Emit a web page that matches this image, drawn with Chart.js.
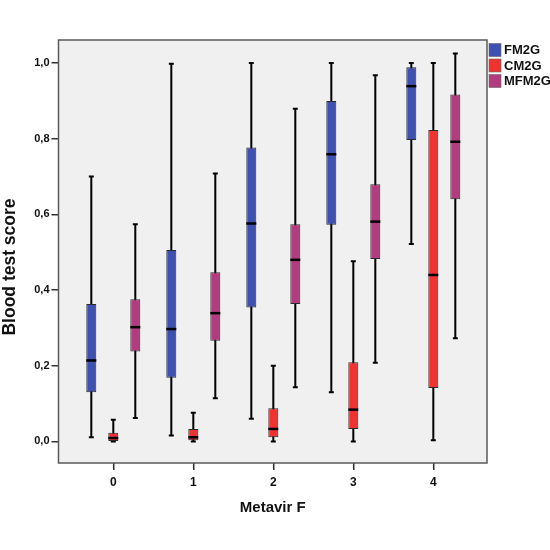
<!DOCTYPE html>
<html lang="en">
<head>
    <meta charset="UTF-8">
    <title>Blood test score by Metavir F</title>
    <script src="https://cdn.jsdelivr.net/npm/chart.js"></script>
    <style>
        body { margin: 0; background: #fff; }
        #wrap { width: 550px; height: 550px; }
    </style>
</head>
<body>
    <div id="wrap"><canvas id="chart" width="550" height="550"></canvas></div>

    <script>
        // Metavir F stages on the x axis
        const categories = [0, 1, 2, 3, 4];
        const yTicks = [0, 0.2, 0.4, 0.6, 0.8, 1.0];

        // five-number summaries per stage: [min, q1, median, q3, max]
        const fm2gStats = [
            [0.011, 0.130, 0.214, 0.363, 0.700],
            [0.016, 0.168, 0.297, 0.506, 0.998],
            [0.060, 0.354, 0.576, 0.777, 1.000],
            [0.130, 0.573, 0.759, 0.900, 1.000],
            [0.522, 0.797, 0.939, 0.989, 1.000]
        ];
        const cm2gStats = [
            [0.000, 0.001, 0.009, 0.023, 0.057],
            [0.000, 0.003, 0.011, 0.033, 0.076],
            [0.000, 0.011, 0.033, 0.088, 0.200],
            [0.000, 0.033, 0.084, 0.209, 0.476],
            [0.003, 0.141, 0.440, 0.823, 1.000]
        ];
        const mfm2gStats = [
            [0.062, 0.238, 0.302, 0.376, 0.574],
            [0.114, 0.266, 0.339, 0.447, 0.708],
            [0.143, 0.363, 0.480, 0.574, 0.879],
            [0.208, 0.482, 0.581, 0.680, 0.968],
            [0.273, 0.640, 0.792, 0.917, 1.025]
        ];

        const FONT = 'Liberation Sans, Arial, sans-serif';

        function boxData(stats, shift) {
            return stats.map((s, i) => ({ x: categories[i] + shift, y: [s[1], s[3]] }));
        }

        // background of the plot area, frame, y title and legend
        const frame = {
            id: 'frame',
            beforeDraw(chart) {
                const a = chart.chartArea, ctx = chart.ctx;
                ctx.save();
                ctx.fillStyle = '#f0f0f0';
                ctx.fillRect(a.left, a.top, a.right - a.left, a.bottom - a.top);
                ctx.restore();
            },
            afterDraw(chart) {
                const a = chart.chartArea, ctx = chart.ctx;
                ctx.save();
                ctx.strokeStyle = '#5a5a5a';
                ctx.lineWidth = 1.5;
                ctx.strokeRect(a.left, a.top, a.right - a.left, a.bottom - a.top);

                // y title sits a little below the middle of the axis in the original
                ctx.save();
                ctx.translate(10, 267);
                ctx.rotate(-Math.PI / 2);
                ctx.font = 'bold 17.5px ' + FONT;
                ctx.fillStyle = '#111';
                ctx.textAlign = 'center';
                ctx.textBaseline = 'middle';
                ctx.fillText('Blood test score', 0, 0);
                ctx.restore();

                // legend
                ctx.font = 'bold 13px ' + FONT;
                ctx.textBaseline = 'middle';
                chart.data.datasets.forEach((ds, i) => {
                    const y = 50 + i * 15.5;
                    ctx.fillStyle = ds.backgroundColor;
                    ctx.fillRect(489, y - 6.5, 12, 13);
                    ctx.strokeStyle = '#666';
                    ctx.lineWidth = 0.6;
                    ctx.strokeRect(489, y - 6.5, 12, 13);
                    ctx.fillStyle = '#111';
                    ctx.fillText(ds.label, 504, y + 0.5);
                });
                ctx.restore();
            }
        };

        // whiskers behind the boxes, medians on top
        const whiskers = {
            id: 'whiskers',
            beforeDatasetsDraw(chart) {
                const ys = chart.scales.y, ctx = chart.ctx;
                ctx.save();
                ctx.strokeStyle = '#000';
                ctx.lineWidth = 2;
                chart.data.datasets.forEach((ds, di) => {
                    chart.getDatasetMeta(di).data.forEach((bar, i) => {
                        const s = ds.stats[i];
                        const lo = ys.getPixelForValue(s[0]);
                        const hi = ys.getPixelForValue(s[4]);
                        ctx.beginPath();
                        ctx.moveTo(bar.x, lo);
                        ctx.lineTo(bar.x, hi);
                        ctx.moveTo(bar.x - 2.5, lo);
                        ctx.lineTo(bar.x + 2.5, lo);
                        ctx.moveTo(bar.x - 2.5, hi);
                        ctx.lineTo(bar.x + 2.5, hi);
                        ctx.stroke();
                    });
                });
                ctx.restore();
            },
            afterDatasetsDraw(chart) {
                const ys = chart.scales.y, ctx = chart.ctx;
                ctx.save();
                ctx.strokeStyle = '#000';
                ctx.lineWidth = 2.5;
                chart.data.datasets.forEach((ds, di) => {
                    chart.getDatasetMeta(di).data.forEach((bar, i) => {
                        const m = ys.getPixelForValue(ds.stats[i][2]);
                        ctx.beginPath();
                        ctx.moveTo(bar.x - bar.width / 2, m);
                        ctx.lineTo(bar.x + bar.width / 2, m);
                        ctx.stroke();
                    });
                });
                ctx.restore();
            }
        };

        const ctx = document.getElementById('chart');

        const chart = new Chart(ctx, {
            type: 'bar',
            data: {
                datasets: [
                    { label: 'FM2G', stats: fm2gStats, data: boxData(fm2gStats, -0.275), backgroundColor: '#3e50b2' },
                    { label: 'CM2G', stats: cm2gStats, data: boxData(cm2gStats, 0), backgroundColor: '#f03330' },
                    { label: 'MFM2G', stats: mfm2gStats, data: boxData(mfm2gStats, 0.275), backgroundColor: '#b33b80' }
                ]
            },
            options: {
                responsive: false,
                animation: false,
                layout: { padding: { top: 40, right: 63, left: 0, bottom: 0 } },
                datasets: {
                    bar: {
                        grouped: false,
                        maxBarThickness: 10,
                        borderColor: '#2a2a2a',
                        borderWidth: 1,
                        borderSkipped: false
                    }
                },
                plugins: {
                    legend: { display: false },
                    tooltip: { enabled: false }
                },
                scales: {
                    x: {
                        type: 'linear',
                        offset: false,
                        min: -0.685,
                        max: 4.671,
                        afterBuildTicks: (s) => { s.ticks = categories.map(v => ({ value: v })); },
                        afterFit: (s) => { s.height = 87; },
                        grid: { offset: false, drawOnChartArea: false, drawTicks: true, tickLength: 7, color: '#333', lineWidth: 1.5 },
                        border: { display: false },
                        ticks: { color: '#111', font: { family: FONT, size: 12, weight: 'bold' }, padding: 5 },
                        title: {
                            display: true, text: 'Metavir F', color: '#111',
                            font: { family: FONT, size: 15, weight: 'bold' },
                            padding: { top: 0, bottom: 33 }
                        }
                    },
                    y: {
                        min: -0.057,
                        max: 1.061,
                        afterBuildTicks: (s) => { s.ticks = yTicks.map(v => ({ value: v })); },
                        afterFit: (s) => { s.width = 58.5; },
                        grid: { drawOnChartArea: false, drawTicks: true, tickLength: 7, color: '#333', lineWidth: 1.5 },
                        border: { display: false },
                        ticks: {
                            color: '#111', padding: 2,
                            font: { family: FONT, size: 11, weight: 'bold' },
                            callback: (v) => v.toFixed(1).replace('.', ',')
                        },
                        title: { display: false }
                    }
                }
            },
            plugins: [frame, whiskers]
        });
    </script>
</body>
</html>
